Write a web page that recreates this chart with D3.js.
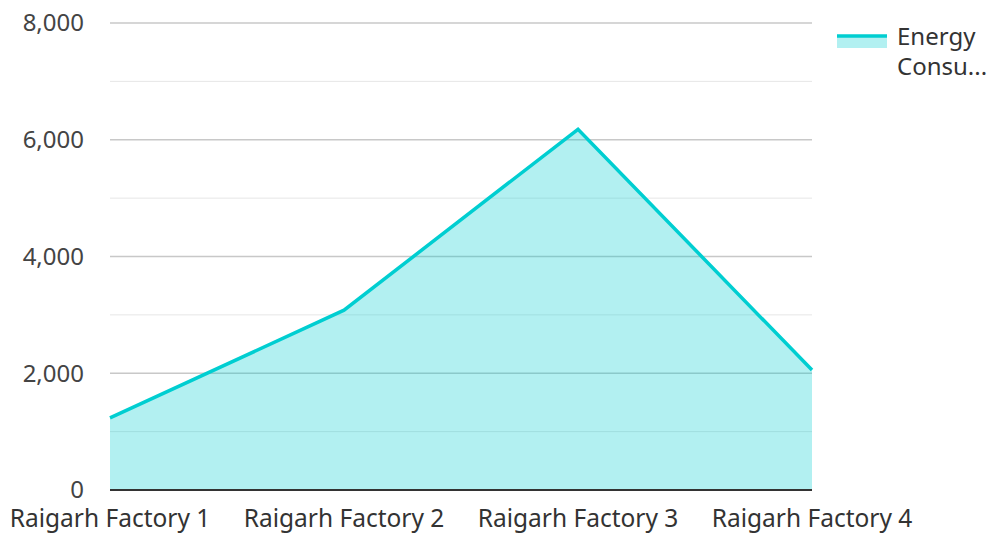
<!DOCTYPE html>
<html><head><meta charset="utf-8">
<script src="https://cdn.jsdelivr.net/npm/d3@7/dist/d3.min.js"></script>
<style>body{margin:0;background:#fff;} text{font-family:"Noto Sans","Open Sans",sans-serif;}</style>
</head><body><svg id="c" width="991" height="534"></svg>
<script>
const categories = ["Raigarh Factory 1","Raigarh Factory 2","Raigarh Factory 3","Raigarh Factory 4"];
const values = [1235, 3080, 6180, 2055];
const yTicks = [0, 2000, 4000, 6000, 8000];
const minorTicks = [1000, 3000, 5000, 7000];
const seriesName = ["Energy", "Consu..."];
const color = "#00CED1";

(function(){
const svg = d3.select("#c");
const mLeft = 110, mRight = 812, mTop = 23, mBottom = 490;
const x = d3.scalePoint().domain(categories).range([mLeft, mRight]);
const y = d3.scaleLinear().domain([0, 8000]).range([mBottom, mTop]);

svg.append("g").selectAll("line").data(minorTicks).join("line")
  .attr("x1", mLeft).attr("x2", mRight).attr("y1", d=>y(d)).attr("y2", d=>y(d))
  .attr("stroke", "#e6e6e6").attr("stroke-width", 1);
svg.append("g").selectAll("line").data(yTicks.filter(d=>d>0)).join("line")
  .attr("x1", mLeft).attr("x2", mRight).attr("y1", d=>y(d)).attr("y2", d=>y(d))
  .attr("stroke", "#c8c8c8").attr("stroke-width", 1.5);

const data = categories.map((c,i)=>({c, v: values[i]}));
svg.append("path").datum(data)
  .attr("d", d3.area().x(d=>x(d.c)).y0(y(0)).y1(d=>y(d.v)))
  .attr("fill", color).attr("fill-opacity", 0.3);
svg.append("path").datum(data)
  .attr("d", d3.line().x(d=>x(d.c)).y(d=>y(d.v)))
  .attr("fill", "none").attr("stroke", color).attr("stroke-width", 3.5);

svg.append("line").attr("x1", mLeft).attr("x2", mRight).attr("y1", y(0)).attr("y2", y(0))
  .attr("stroke", "#333").attr("stroke-width", 2);

svg.append("g").selectAll("text").data(yTicks).join("text")
  .attr("x", 84).attr("y", d=>y(d)).attr("dy", "0.35em").attr("text-anchor", "end")
  .attr("font-size", 24).attr("fill", "#444").text(d=>d3.format(",")(d));

svg.append("g").selectAll("text").data(categories).join("text")
  .attr("x", d=>x(d)).attr("y", 527).attr("text-anchor", "middle")
  .attr("font-size", 24.5).attr("fill", "#333").text(d=>d);

const lg = svg.append("g");
lg.append("rect").attr("x", 837).attr("y", 35).attr("width", 50).attr("height", 13)
  .attr("fill", color).attr("fill-opacity", 0.3);
lg.append("line").attr("x1", 837).attr("x2", 887).attr("y1", 36).attr("y2", 36)
  .attr("stroke", color).attr("stroke-width", 3.5);
lg.selectAll("text").data(seriesName).join("text")
  .attr("x", 897).attr("y", (d,i)=>45 + i*30)
  .attr("font-size", 24).attr("fill", "#333").text(d=>d);
})();
</script></body></html>
